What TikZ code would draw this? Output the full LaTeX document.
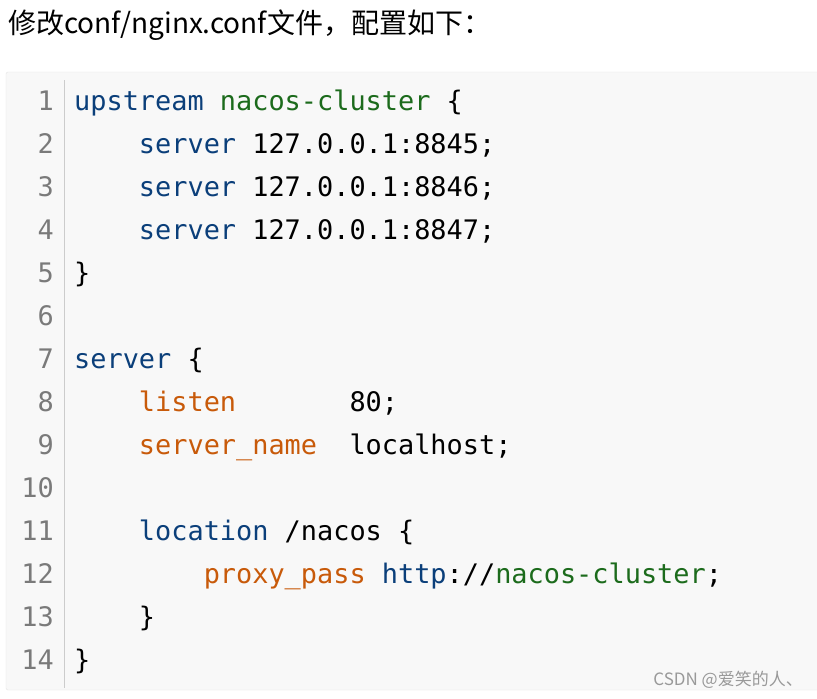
\documentclass[tikz,border=0pt]{standalone}
\usepackage{fontspec}
\setmonofont{DejaVu Sans Mono}
\newfontfamily\cjk{Noto Sans CJK SC}
\definecolor{kw}{HTML}{0B3F7A}
\definecolor{gr}{HTML}{1C6B1C}
\definecolor{og}{HTML}{C85A0A}
\definecolor{ln}{HTML}{7A7A7A}
\definecolor{bx}{HTML}{F8F8F8}
\begin{document}
\begin{tikzpicture}[x=1pt,y=-1pt,
  code/.style={anchor=base west,inner sep=0,font=\ttfamily\fontsize{26.9}{30}\selectfont},
  num/.style={anchor=base east,inner sep=0,text=ln,font=\ttfamily\fontsize{26.9}{30}\selectfont}]
\useasboundingbox (0,0) rectangle (817,699);
\fill[white] (0,0) rectangle (817,699);
\node[anchor=west,inner sep=0,font=\cjk\fontsize{28}{32}\selectfont] (title) at (8,25) {修改conf/nginx.conf文件，配置如下：};
\filldraw[fill=bx,draw=black!10,rounded corners=2] (6,72) rectangle (830,690);
\draw[black!20] (64,80) -- (64,688);
\foreach \i in {1,...,14} { \node[num] (n\i) at (54,{110+43*(\i-1)}) {\i}; }
\node[code] (l1) at (74,110) {\textcolor{kw}{upstream} \textcolor{gr}{nacos-cluster} \{};
\node[code] (l2) at (74,153) {\phantom{xxxx}\textcolor{kw}{server} 127.0.0.1:8845;};
\node[code] (l3) at (74,196) {\phantom{xxxx}\textcolor{kw}{server} 127.0.0.1:8846;};
\node[code] (l4) at (74,239) {\phantom{xxxx}\textcolor{kw}{server} 127.0.0.1:8847;};
\node[code] (l5) at (74,282) {\}};
\node[code] (l7) at (74,368) {\textcolor{kw}{server} \{};
\node[code] (l8) at (74,411) {\phantom{xxxx}\textcolor{og}{listen}\phantom{xxxxxxx}80;};
\node[code] (l9) at (74,454) {\phantom{xxxx}\textcolor{og}{server\_name}\phantom{xx}localhost;};
\node[code] (l11) at (74,540) {\phantom{xxxx}\textcolor{kw}{location} /nacos \{};
\node[code] (l12) at (74,583) {\phantom{xxxxxxxx}\textcolor{og}{proxy\_pass} \textcolor{kw}{http}://\textcolor{gr}{nacos-cluster};};
\node[code] (l13) at (74,626) {\phantom{xxxx}\}};
\node[code] (l14) at (74,669) {\}};
\node[anchor=east,inner sep=0,text=black!40,font=\cjk\fontsize{17}{20}\selectfont] (wm) at (803,680) {CSDN @爱笑的人、};
\end{tikzpicture}
\end{document}
